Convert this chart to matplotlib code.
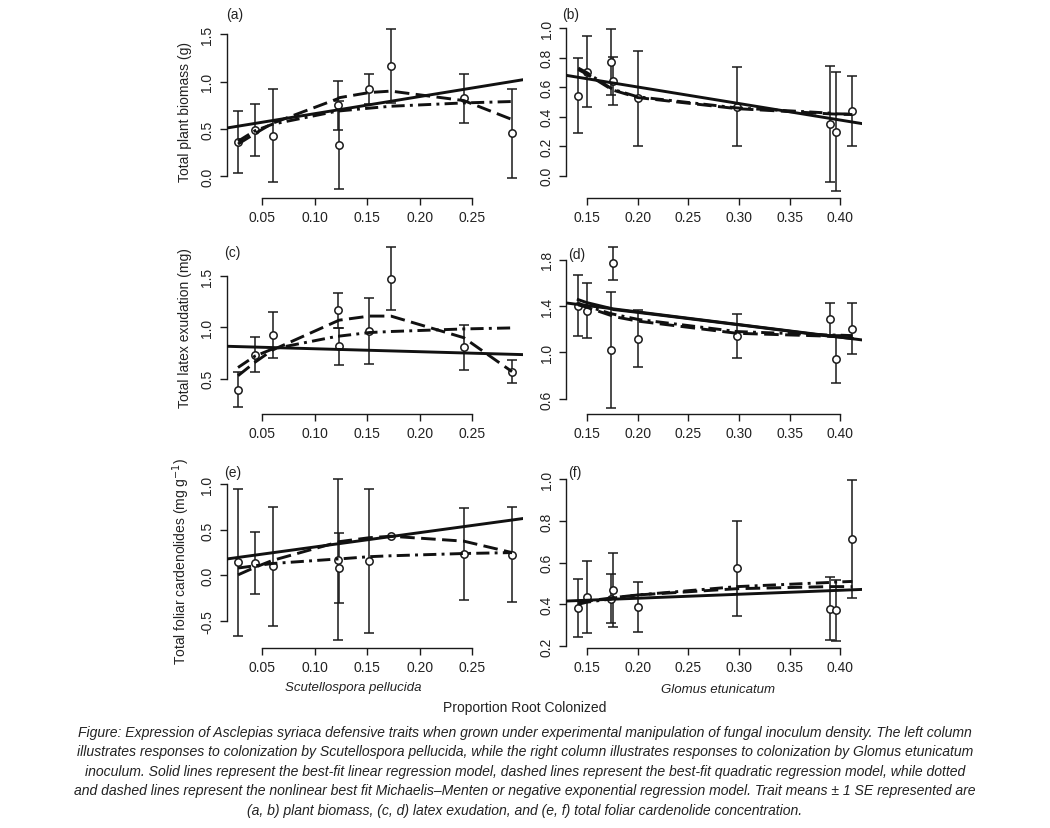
import matplotlib
matplotlib.use('Agg')
import matplotlib.pyplot as plt
import numpy as np

plt.rcParams['font.family'] = ['Liberation Sans', 'DejaVu Sans']

# ---------------- data ----------------
# proportion root colonized
x_sp = [0.0267, 0.0427, 0.0596, 0.122, 0.123, 0.152, 0.1725, 0.242, 0.288]   # Scutellospora pellucida
x_ge = [0.1411, 0.1493, 0.173, 0.1757, 0.200, 0.298, 0.3895, 0.396, 0.412]  # Glomus etunicatum

# (a) plant biomass, S. pellucida
mean_a = [0.36, 0.49, 0.43, 0.75, 0.33, 0.92, 1.165, 0.825, 0.455]
se_a = [0.33, 0.275, 0.49, 0.26, 0.47, 0.16, 0.39, 0.26, 0.47]
lin_a = (0.481, 1.807)                      # intercept, slope
quad_a = [0.34, 0.45, 0.56, 0.82, 0.83, 0.885, 0.90, 0.80, 0.60]
nl_a = [0.37, 0.48, 0.55, 0.69, 0.69, 0.72, 0.74, 0.775, 0.79]

# (b) plant biomass, G. etunicatum
mean_b = [0.544, 0.704, 0.772, 0.642, 0.525, 0.467, 0.351, 0.30, 0.437]
se_b = [0.255, 0.24, 0.225, 0.16, 0.322, 0.268, 0.39, 0.405, 0.237]
lin_b = (0.825, -1.118)
quad_b = [0.72, 0.69, 0.59, 0.58, 0.53, 0.455, 0.42, 0.418, 0.415]
nl_b = [0.73, 0.70, 0.595, 0.585, 0.535, 0.46, 0.425, 0.42, 0.418]

# (c) latex exudation, S. pellucida
mean_c = [0.394, 0.732, 0.926, 1.168, 0.816, 0.968, 1.474, 0.806, 0.571]
se_c = [0.17, 0.17, 0.225, 0.17, 0.18, 0.32, 0.305, 0.22, 0.115]
lin_c = (0.821, -0.287)
quad_c = [0.53, 0.66, 0.78, 1.065, 1.07, 1.11, 1.11, 0.90, 0.57]
nl_c = [0.61, 0.72, 0.79, 0.915, 0.915, 0.95, 0.96, 0.985, 0.995]

# (d) latex exudation, G. etunicatum
mean_d = [1.404, 1.36, 1.025, 1.768, 1.117, 1.145, 1.289, 0.944, 1.203]
se_d = [0.26, 0.235, 0.50, 0.14, 0.245, 0.19, 0.14, 0.21, 0.22]
lin_d = (1.567, -1.089)
quad_d = [1.41, 1.39, 1.32, 1.31, 1.27, 1.165, 1.14, 1.14, 1.14]
nl_d = [1.42, 1.40, 1.335, 1.33, 1.285, 1.18, 1.15, 1.15, 1.145]
extra_d = [1.455, 1.43, 1.38, 1.37, 1.345, 1.24, 1.14, 1.135, 1.12]

# (e) foliar cardenolides, S. pellucida
mean_e = [0.143, 0.136, 0.099, 0.173, 0.081, 0.16, 0.43, 0.235, 0.228]
se_e = [0.81, 0.34, 0.655, 0.885, 0.39, 0.79, 0.0, 0.505, 0.525]
lin_e = (0.1545, 1.576)
quad_e = [0.005, 0.087, 0.164, 0.365, 0.37, 0.414, 0.43, 0.376, 0.25]
nl_e = [0.08, 0.105, 0.13, 0.18, 0.18, 0.205, 0.215, 0.24, 0.25]

# (f) foliar cardenolides, G. etunicatum
mean_f = [0.381, 0.435, 0.427, 0.469, 0.387, 0.573, 0.379, 0.371, 0.715]
se_f = [0.14, 0.174, 0.117, 0.176, 0.12, 0.227, 0.152, 0.145, 0.284]
lin_f = (0.391, 0.191)
quad_f = [0.41, 0.415, 0.43, 0.432, 0.445, 0.475, 0.485, 0.485, 0.485]
nl_f = [0.40, 0.41, 0.425, 0.43, 0.445, 0.485, 0.505, 0.507, 0.51]

xticks_sp = [0.05, 0.10, 0.15, 0.20, 0.25]
xticks_ge = [0.15, 0.20, 0.25, 0.30, 0.35, 0.40]
xlim_sp = (0.0162, 0.2985)
xlim_ge = (0.129, 0.4215)

panels = [
    dict(lab='(a)', x=x_sp, m=mean_a, se=se_a, lin=lin_a, q=quad_a, nl=nl_a, ex=None,
         ylim=(-0.23, 1.62), yt=[0.0, 0.5, 1.0, 1.5], ylab='Total plant biomass (g)'),
    dict(lab='(b)', x=x_ge, m=mean_b, se=se_b, lin=lin_b, q=quad_b, nl=nl_b, ex=None,
         ylim=(-0.15, 1.035), yt=[0.0, 0.2, 0.4, 0.6, 0.8, 1.0], ylab=None),
    dict(lab='(c)', x=x_sp, m=mean_c, se=se_c, lin=lin_c, q=quad_c, nl=nl_c, ex=None,
         ylim=(0.158, 1.84), yt=[0.5, 1.0, 1.5], ylab='Total latex exudation (mg)'),
    dict(lab='(d)', x=x_ge, m=mean_d, se=se_d, lin=lin_d, q=quad_d, nl=nl_d, ex=extra_d,
         ylim=(0.47, 1.96), yt=[0.6, 1.0, 1.4, 1.8], ylab=None),
    dict(lab='(e)', x=x_sp, m=mean_e, se=se_e, lin=lin_e, q=quad_e, nl=nl_e, ex=None,
         ylim=(-0.80, 1.126), yt=[-0.5, 0.0, 0.5, 1.0],
         ylab='Total foliar cardenolides (mg g$^{-1}$)'),
    dict(lab='(f)', x=x_ge, m=mean_f, se=se_f, lin=lin_f, q=quad_f, nl=nl_f, ex=None,
         ylim=(0.19, 1.031), yt=[0.2, 0.4, 0.6, 0.8, 1.0], ylab=None),
]

W, H = 1050, 829
fig = plt.figure(figsize=(W / 100, H / 100), dpi=100)

col_x = [227, 566]
col_w = 296
rows = [(24, 199), (242, 415), (474, 649)]
lab_pos = [(226, 15), (562, 15), (224, 253), (568, 255), (224, 473), (568, 473)]

tick_fs = 10
for i, p in enumerate(panels):
    r, c = divmod(i, 2)
    top, bot = rows[r]
    ax = fig.add_axes([col_x[c] / W, 1 - bot / H, col_w / W, (bot - top) / H])
    ax.set_facecolor('none')
    xs = np.array(p['x'])
    m = np.array(p['m'])
    se = np.array(p['se'])
    has = se > 0
    ax.errorbar(xs[has], m[has], yerr=se[has], fmt='none', ecolor='#1a1a1a',
                elinewidth=1.1, capsize=3.6, capthick=1.1, zorder=2)
    ax.plot(xs, m, 'o', ms=5.3, mfc='white', mec='#1a1a1a', mew=1.1, zorder=3)
    b0, b1 = p['lin']
    ax.axline((0, b0), slope=b1, color='#111111', lw=2.1, zorder=4)
    if p['ex'] is not None:
        ax.plot(xs, p['ex'], color='#111111', lw=2.1, zorder=4)
    ax.plot(xs, p['q'], color='#111111', lw=2.1, dashes=(5, 2.2), zorder=4)
    ax.plot(xs, p['nl'], color='#111111', lw=2.1, dashes=(4.5, 1.8, 1.0, 1.8), zorder=4)

    xt = xticks_sp if c == 0 else xticks_ge
    ax.set_xlim(*(xlim_sp if c == 0 else xlim_ge))
    ax.set_ylim(*p['ylim'])
    ax.set_xticks(xt)
    ax.set_xticklabels(['%.2f' % v for v in xt])
    ax.set_yticks(p['yt'])
    ax.set_yticklabels(['%.1f' % v for v in p['yt']], rotation=90, va='center')
    for s in ['top', 'right']:
        ax.spines[s].set_visible(False)
    ax.spines['left'].set_bounds(p['yt'][0], p['yt'][-1])
    ax.spines['bottom'].set_bounds(xt[0], xt[-1])
    for s in ['left', 'bottom']:
        ax.spines[s].set_linewidth(1.0)
        ax.spines[s].set_color('#1a1a1a')
    ax.tick_params(axis='both', length=5, width=1.0, color='#1a1a1a',
                   labelsize=tick_fs, labelcolor='#222222')
    ax.tick_params(axis='y', pad=4)
    ax.tick_params(axis='x', pad=4)
    if p['ylab']:
        ax.set_ylabel(p['ylab'], fontsize=10, color='#222222', labelpad=6)
    fig.text(lab_pos[i][0] / W, 1 - lab_pos[i][1] / H, p['lab'], fontsize=10,
             color='#222222', ha='left', va='center')

fig.text(353 / W, 1 - 688 / H, 'Scutellospora pellucida', style='italic',
         fontsize=9.5, color='#222222', ha='center', va='center')
fig.text(718 / W, 1 - 690 / H, 'Glomus etunicatum', style='italic',
         fontsize=9.5, color='#222222', ha='center', va='center')
fig.text(525 / W, 1 - 708 / H, 'Proportion Root Colonized', fontsize=10,
         color='#222222', ha='center', va='center')

caption = [
    "Figure: Expression of Asclepias syriaca defensive traits when grown under experimental manipulation of fungal inoculum density. The left column",
    "illustrates responses to colonization by Scutellospora pellucida, while the right column illustrates responses to colonization by Glomus etunicatum",
    "inoculum. Solid lines represent the best-fit linear regression model, dashed lines represent the best-fit quadratic regression model, while dotted",
    "and dashed lines represent the nonlinear best fit Michaelis\u2013Menten or negative exponential regression model. Trait means \u00b1 1 SE represented are",
    "(a, b) plant biomass, (c, d) latex exudation, and (e, f) total foliar cardenolide concentration.",
]
cap_y = [733, 752.5, 772, 791.5, 811]
for line, yy in zip(caption, cap_y):
    fig.text(525 / W, 1 - yy / H, line, style='italic', fontsize=10.1,
             color='#222222', ha='center', va='center')

fig.savefig('out.png', dpi=100)
